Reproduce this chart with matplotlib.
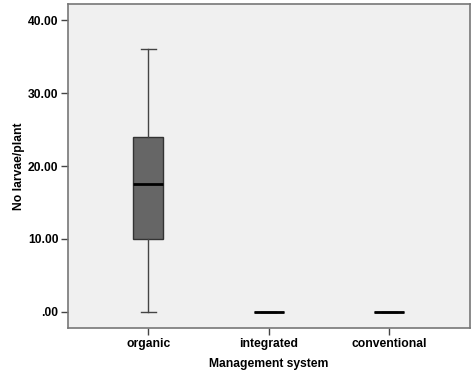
import matplotlib
matplotlib.use("Agg")
import matplotlib.pyplot as plt

# Box summary values per management system
categories = ["organic", "integrated", "conventional"]
whisker_low = [0.0, 0.0, 0.0]
q1 = [10.0, 0.0, 0.0]
median = [17.5, 0.0, 0.0]
q3 = [24.0, 0.0, 0.0]
whisker_high = [36.0, 0.0, 0.0]
yticks = [0, 10, 20, 30, 40]
ytick_labels = [".00", "10.00", "20.00", "30.00", "40.00"]

plt.rcParams['font.family'] = ['Liberation Sans', 'DejaVu Sans']

fig = plt.figure(figsize=(4.74, 3.79), dpi=100)
ax = fig.add_axes([68 / 474, 1 - 328 / 379, 402 / 474, 324 / 379])
ax.set_facecolor("#f0f0f0")

stats = []
for i, name in enumerate(categories):
    stats.append({"label": name, "whislo": whisker_low[i], "q1": q1[i], "med": median[i],
                  "q3": q3[i], "whishi": whisker_high[i], "fliers": []})

ax.bxp(stats, positions=range(len(categories)), widths=0.25, patch_artist=True,
       showfliers=False,
       boxprops=dict(facecolor="#666666", edgecolor="#333333", linewidth=1.0),
       medianprops=dict(color="black", linewidth=2.0),
       whiskerprops=dict(color="#444444", linewidth=1.0),
       capprops=dict(color="#444444", linewidth=1.0),
       capwidths=0.125)

ax.set_xlim(-0.665, 2.67)
ax.set_ylim(-2.2, 42.2)
ax.set_yticks(yticks)
ax.set_yticklabels(ytick_labels)
ax.set_xticks(range(len(categories)))
ax.set_xticklabels(categories)

for s in ax.spines.values():
    s.set_color("#777777")
    s.set_linewidth(1.2)
ax.tick_params(axis="both", direction="out", length=5, width=1, color="#444444",
               labelsize=8.7, pad=2)
for lbl in ax.get_xticklabels() + ax.get_yticklabels():
    lbl.set_fontweight("bold")

ax.set_xlabel("Management system", fontsize=8.7, fontweight="bold", labelpad=6)
ax.set_ylabel("No larvae/plant", fontsize=8.7, fontweight="bold", labelpad=2)

fig.savefig("out.png", dpi=100)
